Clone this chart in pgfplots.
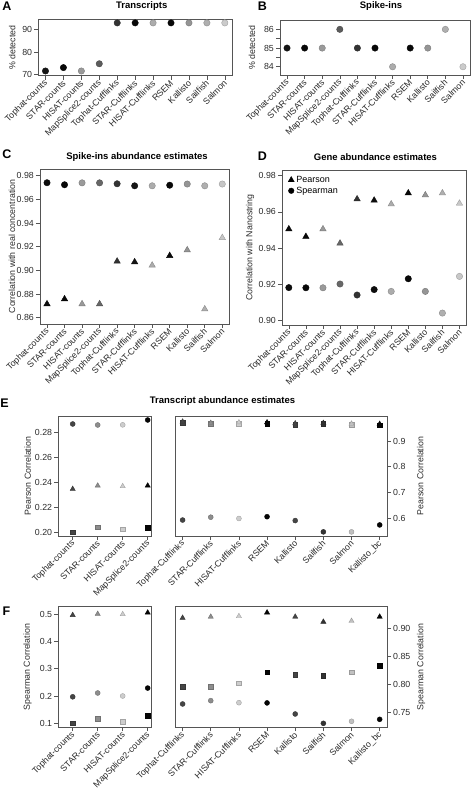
\documentclass[border=0pt]{standalone}
\usepackage{fontspec}
\setmainfont{Liberation Sans}
\usepackage{pgfplots}
\usepackage{pgfplotstable}
\pgfplotsset{compat=1.18}

\definecolor{axgray}{HTML}{555555}
\definecolor{txgray}{HTML}{2A2A2A}

\pgfplotsset{
  rstyle/.style={
    scale only axis,
    anchor=north west,
    axis line style={axgray, line width=0.6pt},
    tick style={axgray, line width=0.6pt},
    major tick length=4pt,
    tick align=outside,
    xtick pos=left,
    ytick pos=left,
    tick label style={font=\fontsize{8.8}{10}\selectfont, text=txgray},
    xticklabel style={rotate=45, anchor=east, inner sep=1pt, yshift=-2pt},
    yticklabel style={inner sep=2pt},
    ylabel style={font=\fontsize{8.8}{10}\selectfont, text=txgray},
    colormap={bw}{gray(0cm)=(0); gray(1cm)=(1)},
    point meta min=0, point meta max=1,
    clip=false,
    /pgf/number format/assume math mode=true,
  },
  labsA/.style={xtick={0,1,2,3,4,5,6,7,8,9,10},
    xticklabels={Tophat-counts,STAR-counts,HISAT-counts,MapSplice2-counts,Tophat-Cufflinks,STAR-Cufflinks,HISAT-Cufflinks,RSEM,Kallisto,Sailfish,Salmon}},
  labsE1/.style={xtick={0,1,2,3},
    xticklabels={Tophat-counts,STAR-counts,HISAT-counts,MapSplice2-counts}},
  labsE2/.style={xtick={0,1,2,3,4,5,6,7},
    xticklabels={Tophat-Cufflinks,STAR-Cufflinks,HISAT-Cufflinks,RSEM,Kallisto,Sailfish,Salmon,Kallisto\_bc}},
  circA/.style={scatter, only marks, mark=*, mark size=3.2pt, point meta=explicit, forget plot},
  triA/.style={scatter, only marks, mark=triangle*, mark size=3.7pt, point meta=explicit, forget plot},
  circE/.style={scatter, only marks, mark=*, mark size=2.5pt, point meta=explicit, forget plot},
  triE/.style={scatter, only marks, mark=triangle*, mark size=3pt, point meta=explicit, forget plot},
  sqE/.style={scatter, only marks, mark=square*, mark size=2.3pt, point meta=explicit, forget plot},
  ylab/.style={ylabel style={at={([xshift=#1]axis description cs:0,0.5)}, anchor=center}},
  ylabR/.style={ylabel style={at={([xshift=#1]axis description cs:1,0.5)}, anchor=center}},
}

% A (Transcripts) and B (Spike-ins): % detected
\pgfplotstableread{
x a b g
0 71.6 85 0.08
1 73.1 85 0.03
2 71.6 85 0.60
3 74.8 86 0.36
4 92.9 85 0.20
5 92.9 85 0.03
6 92.9 84 0.67
7 92.9 85 0.03
8 92.9 85 0.58
9 92.9 86 0.68
10 92.9 84 0.79
}\tabAB

% C (Spike-ins abundance): circ, tri
\pgfplotstableread{
x c t g
0 0.9741 0.8716 0.05
1 0.9724 0.8758 0.03
2 0.9740 0.8716 0.60
3 0.9740 0.8716 0.40
4 0.9732 0.9077 0.20
5 0.9715 0.9071 0.08
6 0.9715 0.9043 0.67
7 0.9720 0.9124 0.03
8 0.9730 0.9172 0.58
9 0.9715 0.8673 0.68
10 0.9730 0.9276 0.77
}\tabC

% D (Gene abundance): Pearson tri, Spearman circ
\pgfplotstableread{
x p s g
0 0.9505 0.9181 0.05
1 0.9463 0.9180 0.03
2 0.9505 0.9180 0.60
3 0.9426 0.9201 0.40
4 0.9671 0.9140 0.20
5 0.9664 0.9170 0.05
6 0.9643 0.9160 0.67
7 0.9704 0.9230 0.03
8 0.9693 0.9160 0.58
9 0.9704 0.9040 0.68
10 0.9647 0.9243 0.78
}\tabD

% E left
\pgfplotstableread{
x c t q g
0 0.2867 0.2345 0.2000 0.27
1 0.2859 0.2372 0.2038 0.55
2 0.2860 0.2367 0.2024 0.80
3 0.2899 0.2372 0.2035 0.02
}\tabEa

% E right
\pgfplotstableread{
x c t q g
0 0.593 0.975 0.970 0.27
1 0.604 0.970 0.966 0.55
2 0.599 0.972 0.968 0.80
3 0.606 0.972 0.966 0.02
4 0.591 0.968 0.964 0.27
5 0.547 0.970 0.966 0.20
6 0.547 0.967 0.963 0.75
7 0.574 0.966 0.962 0.02
}\tabEb

% F left
\pgfplotstableread{
x c t q g
0 0.197 0.496 0.100 0.27
1 0.211 0.500 0.118 0.55
2 0.200 0.499 0.105 0.80
3 0.229 0.505 0.128 0.02
}\tabFa

% F right
\pgfplotstableread{
x c t q g
0 0.7648 0.918 0.796 0.27
1 0.7707 0.920 0.796 0.55
2 0.7671 0.921 0.8016 0.80
3 0.7667 0.9275 0.8217 0.02
4 0.7470 0.920 0.817 0.27
5 0.7304 0.911 0.8153 0.20
6 0.7340 0.9125 0.8217 0.75
7 0.7375 0.920 0.8327 0.02
}\tabFb

\begin{document}
\begin{tikzpicture}
\useasboundingbox (0pt,0pt) rectangle (474pt,-790pt);

% ---------- A ----------
\begin{axis}[rstyle, at={(38.3pt,-19.5pt)}, width=193.7pt, height=56pt,
  xmin=-0.4, xmax=10.4, ymin=69.6, ymax=94.4, labsA,
  ytick={70,80,90}, yticklabels={70,80,90},
  ylabel={\% detected}, ylab=-26pt]
\addplot[circA] table[x=x, y=a, meta=g] {\tabAB};
\end{axis}

% ---------- B ----------
\begin{axis}[rstyle, at={(280pt,-20pt)}, width=190pt, height=55pt,
  xmin=-0.4, xmax=10.4, ymin=83.56, ymax=86.5, labsA,
  ytick={84,84.5,85,85.5,86}, yticklabels={84,,85,,86},
  ylabel={\% detected}, ylab=-28pt]
\addplot[circA] table[x=x, y=b, meta=g] {\tabAB};
\end{axis}

% ---------- C ----------
\begin{axis}[rstyle, at={(40pt,-169pt)}, width=189.3pt, height=155pt,
  xmin=-0.4, xmax=10.4, ymin=0.8547, ymax=0.9857, labsA,
  ytick={0.86,0.88,0.90,0.92,0.94,0.96,0.98}, yticklabels={0.86,0.88,0.90,0.92,0.94,0.96,0.98},
  ylabel={Correlation with real concentration}, ylab=-28pt]
\addplot[circA] table[x=x, y=c, meta=g] {\tabC};
\addplot[triA] table[x=x, y=t, meta=g] {\tabC};
\end{axis}

% ---------- D ----------
\begin{axis}[rstyle, at={(282pt,-170pt)}, width=184.3pt, height=155pt,
  xmin=-0.4, xmax=10.4, ymin=0.8974, ymax=0.9832, labsA,
  ytick={0.90,0.92,0.94,0.96,0.98}, yticklabels={0.90,0.92,0.94,0.96,0.98},
  ylabel={Correlation with Nanostring}, ylab=-32pt,
  legend style={at={(axis description cs:0,1)}, anchor=north west, draw=none, fill=none,
    font=\fontsize{9}{10}\selectfont, xshift=3pt, yshift=-2pt, row sep=-1pt},
  legend cell align=left,
  legend image code/.code={\draw[#1] plot coordinates {(3pt,0pt)};}]
\addplot[circA] table[x=x, y=s, meta=g] {\tabD};
\addplot[triA] table[x=x, y=p, meta=g] {\tabD};
\addlegendimage{only marks, mark=triangle*, mark size=3.5pt, black}
\addlegendentry{Pearson}
\addlegendimage{only marks, mark=*, mark size=2.8pt, black}
\addlegendentry{Spearman}
\end{axis}

% ---------- E left ----------
\begin{axis}[rstyle, at={(58.3pt,-416pt)}, width=93.4pt, height=120pt,
  xmin=-0.576, xmax=3.16, ymin=0.1968, ymax=0.2931, labsE1,
  ytick={0.20,0.22,0.24,0.26,0.28}, yticklabels={0.20,0.22,0.24,0.26,0.28},
  ylabel={Pearson Correlation}, ylab=-30.6pt]
\addplot[sqE] table[x=x, y=q, meta=g] {\tabEa};
\addplot[triE] table[x=x, y=t, meta=g] {\tabEa};
\addplot[circE] table[x=x, y=c, meta=g] {\tabEa};
\end{axis}

% ---------- E right ----------
\begin{axis}[rstyle, at={(175pt,-416pt)}, width=212pt, height=120pt,
  xmin=-0.27, xmax=7.26, ymin=0.531, ymax=0.997, labsE2,
  ytick pos=right, yticklabel pos=right,
  ytick={0.6,0.7,0.8,0.9}, yticklabels={0.6,0.7,0.8,0.9},
  ylabel={Pearson Correlation}, ylabR=33.3pt, ylabel style={rotate=0}]
\addplot[sqE] table[x=x, y=q, meta=g] {\tabEb};
\addplot[triE] table[x=x, y=t, meta=g] {\tabEb};
\addplot[circE] table[x=x, y=c, meta=g] {\tabEb};
\end{axis}

% ---------- F left ----------
\begin{axis}[rstyle, at={(58.3pt,-606.7pt)}, width=93.4pt, height=120.6pt,
  xmin=-0.576, xmax=3.16, ymin=0.0854, ymax=0.5267, labsE1,
  ytick={0.1,0.2,0.3,0.4,0.5}, yticklabels={0.1,0.2,0.3,0.4,0.5},
  ylabel={Spearman Correlation}, ylab=-30.6pt]
\addplot[sqE] table[x=x, y=q, meta=g] {\tabFa};
\addplot[triE] table[x=x, y=t, meta=g] {\tabFa};
\addplot[circE] table[x=x, y=c, meta=g] {\tabFa};
\end{axis}

% ---------- F right ----------
\begin{axis}[rstyle, at={(175pt,-606.7pt)}, width=212pt, height=120.6pt,
  xmin=-0.27, xmax=7.26, ymin=0.7233, ymax=0.9379, labsE2,
  ytick pos=right, yticklabel pos=right,
  ytick={0.75,0.80,0.85,0.90}, yticklabels={0.75,0.80,0.85,0.90},
  ylabel={Spearman Correlation}, ylabR=34pt, ylabel style={rotate=0}]
\addplot[sqE] table[x=x, y=q, meta=g] {\tabFb};
\addplot[triE] table[x=x, y=t, meta=g] {\tabFb};
\addplot[circE] table[x=x, y=c, meta=g] {\tabFb};
\end{axis}

% ---------- titles and panel letters ----------
\begin{scope}[every node/.style={font=\fontsize{9.5}{11}\selectfont\bfseries}]
\node at (141.7pt,-6.5pt) {Transcripts};
\node at (381pt,-6.5pt) {Spike-ins};
\node at (137pt,-157pt) {Spike-ins abundance estimates};
\node at (375.5pt,-157pt) {Gene abundance estimates};
\node at (222.5pt,-401.5pt) {Transcript abundance estimates};
\end{scope}
\begin{scope}[every node/.style={font=\fontsize{12.5}{14}\selectfont\bfseries}]
\node at (7pt,-6pt) {A};
\node at (262.5pt,-6pt) {B};
\node at (7pt,-154.5pt) {C};
\node at (262.5pt,-155.8pt) {D};
\node at (4.5pt,-403.3pt) {E};
\node at (6.5pt,-611.5pt) {F};
\end{scope}
\end{tikzpicture}
\end{document}
